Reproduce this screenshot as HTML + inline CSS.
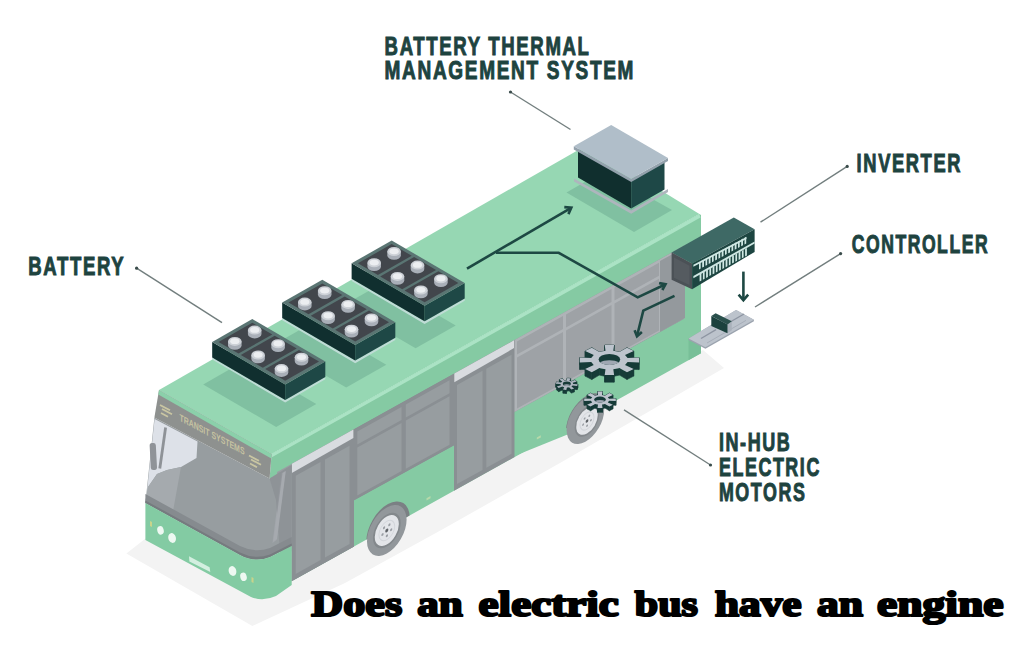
<!DOCTYPE html>
<html><head><meta charset="utf-8"><title>Does an electric bus have an engine</title>
<style>
html,body{margin:0;padding:0;background:#fff;}
body{width:1024px;height:649px;overflow:hidden;font-family:"Liberation Sans",sans-serif;}
svg{display:block;font-family:"Liberation Sans",sans-serif;}
#caption text{font-family:"Liberation Serif",serif;}
</style></head><body>
<svg width="1024" height="649" viewBox="0 0 1024 649">
<rect width="1024" height="649" fill="#ffffff"/>
<g id="ground">
<polygon points="126.4,553.5 252.4,626.0 345.0,583.0 444.0,528.5 560.0,463.0 724.0,368.0 703.0,350.0 300.0,560.0 150.0,535.0" fill="#f3f3f3" />
</g>
<defs><clipPath id="sideclip" clipPathUnits="userSpaceOnUse"><polygon points="271.6,454.0 699.4,214.0 701.0,215.0 701.0,353.3 293.0,580.4 291.0,480.0"/></clipPath></defs>
<g id="bus">
<polygon points="271.6,454.0 699.4,214.0 701.0,215.0 701.0,353.3 293.0,580.4 291.0,480.0 269.6,478.4" fill="#85caa3" />
<polygon points="159.0,390.0 271.6,454.0 699.4,214.0 587.0,145.0" fill="#96d7b3" />
<polygon points="271.6,454.0 699.4,214.0 700.5,217.5 271.4,457.5" fill="#abe3c5" />
<polygon points="291.5,464.0 684.0,245.8 684.0,318.7 354.0,500.2 354.0,546.4 291.5,581.2" fill="#8a8f93" />
</g>
<g id="side-detail">
<polygon points="277.0,472.0 291.5,464.0 291.5,551.2 280.0,556.0" fill="#9a9ea3" />
<polygon points="291.5,464.0 354.0,429.3 354.0,546.4 291.5,581.2" fill="#8a8f93" />
<polygon points="291.8,463.8 353.4,429.6 353.4,437.9 291.8,473.1" fill="#d9dce0" />
<polygon points="295.7,475.7 320.5,461.9 320.5,560.1 295.7,573.9" fill="#979da0" />
<polygon points="325.0,459.4 349.5,445.8 349.5,543.9 325.0,557.6" fill="#979da0" />
<polygon points="354.0,429.3 454.0,373.7 454.0,445.2 354.0,500.2" fill="#8a8f93" />
<polygon points="357.3,431.4 401.5,406.9 401.5,419.9 357.3,444.4" fill="#979da0" />
<polygon points="357.3,447.4 401.5,422.9 401.5,471.1 357.3,495.4" fill="#979da0" />
<polygon points="405.8,404.5 449.5,380.2 449.5,393.2 405.8,417.5" fill="#979da0" />
<polygon points="405.8,420.5 449.5,396.2 449.5,444.7 405.8,468.7" fill="#979da0" />
<polygon points="454.0,373.7 514.5,340.0 514.5,457.1 454.0,490.8" fill="#8a8f93" />
<polygon points="454.3,373.5 514.0,340.3 514.0,348.1 454.3,382.3" fill="#d9dce0" />
<polygon points="457.0,385.0 482.5,370.8 482.5,469.9 457.0,484.1" fill="#979da0" />
<polygon points="486.3,368.7 511.5,354.7 511.5,453.8 486.3,467.8" fill="#979da0" />
<polygon points="514.5,340.0 685.0,245.2 685.0,318.1 514.5,411.9" fill="#afb3b7" />
<polygon points="517.0,341.6 563.0,316.1 563.0,329.1 517.0,354.6" fill="#9ea2a6" />
<polygon points="517.0,357.6 563.0,332.1 563.0,383.2 517.0,408.5" fill="#9ea2a6" />
<polygon points="566.0,314.4 611.5,289.1 611.5,302.1 566.0,327.4" fill="#9ea2a6" />
<polygon points="566.0,330.4 611.5,305.1 611.5,356.6 566.0,381.6" fill="#9ea2a6" />
<polygon points="614.5,287.4 659.0,262.7 659.0,275.7 614.5,300.4" fill="#9ea2a6" />
<polygon points="614.5,303.4 659.0,278.7 659.0,330.4 614.5,354.9" fill="#9ea2a6" />
<polygon points="662.0,261.0 684.0,248.8 684.0,261.8 662.0,274.0" fill="#9ea2a6" />
<polygon points="662.0,277.0 684.0,264.8 684.0,316.7 662.0,328.8" fill="#9ea2a6" />
</g>
<g id="front">
<path d="M154.4,417.5 L269.6,478.4 L291.7,465 L291.7,546 L270,557 Q255,563 240,555 L145.4,503 Z" fill="#979da0"/>
<path d="M154.6,419 L197.5,441.5 L196.5,458 L181,467 L167,470 L157,474 L148,487 L146.5,496 Z" fill="#dde1e8"/>
<path d="M157,474 L167,470 L181,467 L196.5,458 L198,447 L172.8,500 L146,494 L148,487 Z" fill="#a3a7ac" opacity="0.0"/>
<path d="M146.5,496 L148,487 L157,474 L167,470 L181,467 L172.5,514 L145.4,500 Z" fill="#a5aaae"/>
<path d="M281.5,473 L285.5,471 L276.5,540 L272.5,543 Z" fill="#a3a7ac"/>
<path d="M269.6,478.4 L291.7,465 L291.7,546 L280,552 L276,500 Z" fill="#878b90" opacity="0.55"/>
<path d="M282.5,473 L285.8,471 L277,539 L273.5,541 Z" fill="#a6aaaf"/>
<path d="M145.4,494 L240,546 Q255,553.5 270,548 L291.7,537 L291.7,546 L270,557 Q255,563 240,555 L145.4,503 Z" fill="#868b8f"/>
<path d="M145.4,500.5 L240,552.5 Q255,560 270,554.5 L291.7,543.5 L291.7,546 L270,557 Q255,563 240,555 L145.4,503 Z" fill="#767b7f"/>
<polygon points="159.0,390.0 271.6,454.0 269.6,478.4 154.4,417.5" fill="#8e918f" />
<polygon points="159.0,390.0 271.6,454.0 271.3,458.6 158.3,394.4" fill="#8bd0aa" />
<g transform="matrix(1,0.53,0,1,0,0)" fill="#d4cfa6" font-size="10" font-weight="bold" opacity="0.8">
<text x="179.5" y="325.6" textLength="65" lengthAdjust="spacingAndGlyphs" style="font-family:'Liberation Sans',sans-serif">TRANSIT SYSTEMS</text>
</g>
<path d="M160,405 l10,5.3 M162,409 l10,5.3 M161,413 l7,3.7" stroke="#d4cfa6" stroke-width="1.8" fill="none" opacity="0.85"/>
<path d="M249,455.5 l10,5.3 M251,459.5 l10,5.3 M250,463.5 l7,3.7" stroke="#d4cfa6" stroke-width="1.8" fill="none" opacity="0.85"/>
<path d="M165.6,427.5 L159.8,468.5" stroke="#8e9297" stroke-width="2.8" fill="none"/>
<rect x="150.2" y="443" width="6.2" height="27" rx="2.5" fill="#8f9398" transform="rotate(-3 153 456)"/>
<path d="M145.4,503 L240,555 Q255,563 270,557 L291.7,546 L291.7,585 L276,596 Q263,602 251,597 L145.4,540 Z" fill="#83cba3"/>
<ellipse cx="160.5" cy="530.4" rx="3.2" ry="4.3" fill="#eef8f2" transform="rotate(-15 160.5 530.4)"/>
<ellipse cx="172.1" cy="538" rx="3.8" ry="5.0" fill="#eef8f2" transform="rotate(-15 172.1 538)"/>
<ellipse cx="232.5" cy="571" rx="3.8" ry="5.0" fill="#eef8f2" transform="rotate(-15 232.5 571)"/>
<ellipse cx="243.5" cy="576.8" rx="3.2" ry="4.3" fill="#eef8f2" transform="rotate(-15 243.5 576.8)"/>
<polygon points="189.0,556.3 209.6,567.2 210.3,572.0 189.4,561.6" fill="#d3efe0" />
<polygon points="150.0,521.0 152.0,522.0 152.0,527.0 150.0,526.0" fill="#c9d48a" />
<polygon points="251.5,577.0 253.5,578.0 253.5,583.0 251.5,582.0" fill="#c9d48a" />
</g>
<polygon points="515.0,455.8 570.0,425.2 570.0,433.5" fill="#85caa3" />
<polygon points="426.5,498.2 430.5,496.0 430.5,498.2 426.5,500.4" fill="#b7d9aa" />
<polygon points="536.8,437.4 540.8,435.2 540.8,437.4 536.8,439.6" fill="#b7d9aa" />
<g id="wheels">
<g clip-path="url(#sideclip)"><circle r="25.2" fill="#7b8084" transform="matrix(0.861,-0.473,0,1,388.0,529.3)"/></g>
<circle r="23" fill="#92979b" transform="matrix(0.861,-0.473,0,1,386.8,530.5)"/>
<circle r="16.1" fill="#83888c" transform="matrix(0.861,-0.473,0,1,386.8,530.5)"/>
<circle r="14.0" fill="#e3e5e9" transform="matrix(0.861,-0.473,0,1,386.8,530.5)"/>
<circle r="9.2" fill="none" stroke="#d2d5da" stroke-width="1" transform="matrix(0.861,-0.473,0,1,386.8,530.5)"/>
<circle cx="5.1" cy="1.6" r="1.3" fill="#9a9ea4" transform="matrix(0.861,-0.473,0,1,386.8,530.5)"/>
<circle cx="0.1" cy="5.3" r="1.3" fill="#9a9ea4" transform="matrix(0.861,-0.473,0,1,386.8,530.5)"/>
<circle cx="-5.0" cy="1.7" r="1.3" fill="#9a9ea4" transform="matrix(0.861,-0.473,0,1,386.8,530.5)"/>
<circle cx="-3.2" cy="-4.2" r="1.3" fill="#9a9ea4" transform="matrix(0.861,-0.473,0,1,386.8,530.5)"/>
<circle cx="3.0" cy="-4.3" r="1.3" fill="#9a9ea4" transform="matrix(0.861,-0.473,0,1,386.8,530.5)"/>
<circle r="1.8" fill="#5f6368" transform="matrix(0.861,-0.473,0,1,386.8,530.5)"/>
<g clip-path="url(#sideclip)"><circle r="24.0" fill="#7b8084" transform="matrix(0.861,-0.473,0,1,586.6,419.8)"/></g>
<circle r="21.8" fill="#92979b" transform="matrix(0.861,-0.473,0,1,585.4,420.0)"/>
<circle r="14.3" fill="#83888c" transform="matrix(0.861,-0.473,0,1,587,421)"/>
<circle r="12.5" fill="#e3e5e9" transform="matrix(0.861,-0.473,0,1,587,421)"/>
<circle r="8.2" fill="none" stroke="#d2d5da" stroke-width="1" transform="matrix(0.861,-0.473,0,1,587,421)"/>
<circle cx="4.5" cy="1.4" r="1.1" fill="#9a9ea4" transform="matrix(0.861,-0.473,0,1,587,421)"/>
<circle cx="0.1" cy="4.7" r="1.1" fill="#9a9ea4" transform="matrix(0.861,-0.473,0,1,587,421)"/>
<circle cx="-4.5" cy="1.5" r="1.1" fill="#9a9ea4" transform="matrix(0.861,-0.473,0,1,587,421)"/>
<circle cx="-2.8" cy="-3.8" r="1.1" fill="#9a9ea4" transform="matrix(0.861,-0.473,0,1,587,421)"/>
<circle cx="2.7" cy="-3.9" r="1.1" fill="#9a9ea4" transform="matrix(0.861,-0.473,0,1,587,421)"/>
<circle r="1.6" fill="#5f6368" transform="matrix(0.861,-0.473,0,1,587,421)"/>
</g>
<g id="batteries">
<polygon points="203.2,384.4 243.3,361.6 316.3,404.1 276.2,426.9" fill="#80c0a1" />
<polygon points="273.2,345.1 313.3,322.3 386.3,364.8 346.2,387.6" fill="#80c0a1" />
<polygon points="342.6,305.8 382.7,283.0 455.7,325.5 415.6,348.3" fill="#80c0a1" />
<polygon points="212.2,357.4 285.2,399.9 325.3,377.1 325.3,379.3 285.2,402.5 212.2,359.6" fill="#bfdcd6" />
<polygon points="212.2,341.9 285.2,384.4 285.2,399.9 212.2,357.4" fill="#102f2f" />
<polygon points="285.2,384.4 325.3,361.6 325.3,377.1 285.2,399.9" fill="#1e4846" />
<polygon points="212.2,341.9 252.3,319.1 325.3,361.6 285.2,384.4" fill="#5a7573" />
<polygon points="218.5,341.9 252.3,322.7 272.3,334.4 238.5,353.6" fill="#42464c" />
<polygon points="240.8,355.0 274.7,335.7 296.7,348.5 262.8,367.8" fill="#42464c" />
<polygon points="265.2,369.1 299.0,349.9 319.0,361.6 285.2,380.8" fill="#42464c" />
<path d="M228.0,341.4 v3.8 a6.8,4.5 0 0 0 13.6,0 v-3.8 z" fill="#a9afb8"/>
<ellipse cx="234.8" cy="341.4" rx="6.8" ry="4.5" fill="#cdd1d7" />
<ellipse cx="234.8" cy="341.2" rx="4.6" ry="2.9" fill="#eceef1" />
<path d="M247.9,330.1 v3.8 a6.8,4.5 0 0 0 13.6,0 v-3.8 z" fill="#a9afb8"/>
<ellipse cx="254.7" cy="330.1" rx="6.8" ry="4.5" fill="#cdd1d7" />
<ellipse cx="254.7" cy="329.9" rx="4.6" ry="2.9" fill="#eceef1" />
<path d="M251.3,355.0 v3.8 a6.8,4.5 0 0 0 13.6,0 v-3.8 z" fill="#a9afb8"/>
<ellipse cx="258.1" cy="355.0" rx="6.8" ry="4.5" fill="#cdd1d7" />
<ellipse cx="258.1" cy="354.8" rx="4.6" ry="2.9" fill="#eceef1" />
<path d="M271.3,343.7 v3.8 a6.8,4.5 0 0 0 13.6,0 v-3.8 z" fill="#a9afb8"/>
<ellipse cx="278.1" cy="343.7" rx="6.8" ry="4.5" fill="#cdd1d7" />
<ellipse cx="278.1" cy="343.5" rx="4.6" ry="2.9" fill="#eceef1" />
<path d="M274.7,368.6 v3.8 a6.8,4.5 0 0 0 13.6,0 v-3.8 z" fill="#a9afb8"/>
<ellipse cx="281.5" cy="368.6" rx="6.8" ry="4.5" fill="#cdd1d7" />
<ellipse cx="281.5" cy="368.4" rx="4.6" ry="2.9" fill="#eceef1" />
<path d="M294.7,357.3 v3.8 a6.8,4.5 0 0 0 13.6,0 v-3.8 z" fill="#a9afb8"/>
<ellipse cx="301.5" cy="357.3" rx="6.8" ry="4.5" fill="#cdd1d7" />
<ellipse cx="301.5" cy="357.1" rx="4.6" ry="2.9" fill="#eceef1" />
<polygon points="282.2,318.1 355.2,360.6 395.3,337.8 395.3,340.0 355.2,363.2 282.2,320.3" fill="#bfdcd6" />
<polygon points="282.2,302.6 355.2,345.1 355.2,360.6 282.2,318.1" fill="#102f2f" />
<polygon points="355.2,345.1 395.3,322.3 395.3,337.8 355.2,360.6" fill="#1e4846" />
<polygon points="282.2,302.6 322.3,279.8 395.3,322.3 355.2,345.1" fill="#5a7573" />
<polygon points="288.5,302.6 322.3,283.4 342.3,295.1 308.5,314.3" fill="#42464c" />
<polygon points="310.8,315.7 344.7,296.4 366.7,309.2 332.8,328.5" fill="#42464c" />
<polygon points="335.2,329.8 369.0,310.6 389.0,322.3 355.2,341.5" fill="#42464c" />
<path d="M298.0,302.1 v3.8 a6.8,4.5 0 0 0 13.6,0 v-3.8 z" fill="#a9afb8"/>
<ellipse cx="304.8" cy="302.1" rx="6.8" ry="4.5" fill="#cdd1d7" />
<ellipse cx="304.8" cy="301.9" rx="4.6" ry="2.9" fill="#eceef1" />
<path d="M317.9,290.8 v3.8 a6.8,4.5 0 0 0 13.6,0 v-3.8 z" fill="#a9afb8"/>
<ellipse cx="324.7" cy="290.8" rx="6.8" ry="4.5" fill="#cdd1d7" />
<ellipse cx="324.7" cy="290.6" rx="4.6" ry="2.9" fill="#eceef1" />
<path d="M321.3,315.7 v3.8 a6.8,4.5 0 0 0 13.6,0 v-3.8 z" fill="#a9afb8"/>
<ellipse cx="328.1" cy="315.7" rx="6.8" ry="4.5" fill="#cdd1d7" />
<ellipse cx="328.1" cy="315.5" rx="4.6" ry="2.9" fill="#eceef1" />
<path d="M341.3,304.4 v3.8 a6.8,4.5 0 0 0 13.6,0 v-3.8 z" fill="#a9afb8"/>
<ellipse cx="348.1" cy="304.4" rx="6.8" ry="4.5" fill="#cdd1d7" />
<ellipse cx="348.1" cy="304.2" rx="4.6" ry="2.9" fill="#eceef1" />
<path d="M344.7,329.3 v3.8 a6.8,4.5 0 0 0 13.6,0 v-3.8 z" fill="#a9afb8"/>
<ellipse cx="351.5" cy="329.3" rx="6.8" ry="4.5" fill="#cdd1d7" />
<ellipse cx="351.5" cy="329.1" rx="4.6" ry="2.9" fill="#eceef1" />
<path d="M364.7,318.0 v3.8 a6.8,4.5 0 0 0 13.6,0 v-3.8 z" fill="#a9afb8"/>
<ellipse cx="371.5" cy="318.0" rx="6.8" ry="4.5" fill="#cdd1d7" />
<ellipse cx="371.5" cy="317.8" rx="4.6" ry="2.9" fill="#eceef1" />
<polygon points="351.6,278.8 424.6,321.3 464.7,298.5 464.7,300.7 424.6,323.9 351.6,281.0" fill="#bfdcd6" />
<polygon points="351.6,263.3 424.6,305.8 424.6,321.3 351.6,278.8" fill="#102f2f" />
<polygon points="424.6,305.8 464.7,283.0 464.7,298.5 424.6,321.3" fill="#1e4846" />
<polygon points="351.6,263.3 391.7,240.5 464.7,283.0 424.6,305.8" fill="#5a7573" />
<polygon points="357.9,263.3 391.7,244.1 411.7,255.8 377.9,275.0" fill="#42464c" />
<polygon points="380.2,276.4 414.1,257.1 436.1,269.9 402.2,289.2" fill="#42464c" />
<polygon points="404.6,290.5 438.4,271.3 458.4,283.0 424.6,302.2" fill="#42464c" />
<path d="M367.4,262.8 v3.8 a6.8,4.5 0 0 0 13.6,0 v-3.8 z" fill="#a9afb8"/>
<ellipse cx="374.2" cy="262.8" rx="6.8" ry="4.5" fill="#cdd1d7" />
<ellipse cx="374.2" cy="262.6" rx="4.6" ry="2.9" fill="#eceef1" />
<path d="M387.3,251.5 v3.8 a6.8,4.5 0 0 0 13.6,0 v-3.8 z" fill="#a9afb8"/>
<ellipse cx="394.1" cy="251.5" rx="6.8" ry="4.5" fill="#cdd1d7" />
<ellipse cx="394.1" cy="251.3" rx="4.6" ry="2.9" fill="#eceef1" />
<path d="M390.7,276.4 v3.8 a6.8,4.5 0 0 0 13.6,0 v-3.8 z" fill="#a9afb8"/>
<ellipse cx="397.5" cy="276.4" rx="6.8" ry="4.5" fill="#cdd1d7" />
<ellipse cx="397.5" cy="276.2" rx="4.6" ry="2.9" fill="#eceef1" />
<path d="M410.7,265.1 v3.8 a6.8,4.5 0 0 0 13.6,0 v-3.8 z" fill="#a9afb8"/>
<ellipse cx="417.5" cy="265.1" rx="6.8" ry="4.5" fill="#cdd1d7" />
<ellipse cx="417.5" cy="264.9" rx="4.6" ry="2.9" fill="#eceef1" />
<path d="M414.1,290.0 v3.8 a6.8,4.5 0 0 0 13.6,0 v-3.8 z" fill="#a9afb8"/>
<ellipse cx="420.9" cy="290.0" rx="6.8" ry="4.5" fill="#cdd1d7" />
<ellipse cx="420.9" cy="289.8" rx="4.6" ry="2.9" fill="#eceef1" />
<path d="M434.1,278.7 v3.8 a6.8,4.5 0 0 0 13.6,0 v-3.8 z" fill="#a9afb8"/>
<ellipse cx="440.9" cy="278.7" rx="6.8" ry="4.5" fill="#cdd1d7" />
<ellipse cx="440.9" cy="278.5" rx="4.6" ry="2.9" fill="#eceef1" />
</g>
<g id="thermal">
<polygon points="566.5,192.5 603.0,171.5 672.0,210.0 634.0,232.0" fill="#80c0a1" />
<polygon points="574.0,178.5 631.2,210.5 668.0,189.0 668.0,192.0 631.2,213.8 574.0,181.6" fill="#aeb5bd" />
<polygon points="578.0,149.0 631.2,180.0 631.2,208.5 578.0,177.5" fill="#102f2e" />
<polygon points="631.2,180.0 664.5,161.0 664.5,189.5 631.2,208.5" fill="#1e4847" />
<polygon points="573.8,146.3 631.2,178.8 668.0,158.0 668.0,161.0 631.2,182.0 573.8,149.4" fill="#93a1ac" />
<polygon points="573.8,146.3 611.2,125.0 668.0,158.0 631.2,178.8" fill="#b0bec9" />
</g>
<g id="inverter">
<polygon points="660.0,261.1 685.0,247.2 685.0,318.1 660.0,331.9" fill="#94999d" />
<polygon points="671.6,252.6 733.8,217.4 754.6,229.2 692.1,263.6" fill="#3e6965" />
<polygon points="671.6,252.6 692.1,263.6 692.1,289.2 671.6,279.7" fill="#4b5156" />
<polygon points="674.0,257.5 689.5,265.8 689.5,285.0 674.0,277.8" fill="#555b60" />
<polygon points="692.1,263.6 754.6,229.2 754.6,251.9 692.1,289.2" fill="#1d4541" />
<polygon points="693.4,264.7 746.5,237.0 746.5,239.0 693.4,266.7" fill="#cfe7e3" />
<polygon points="699.0,262.8 700.7,261.9 700.7,268.5 699.0,269.4" fill="#cfe7e3" />
<polygon points="702.2,261.0 704.0,260.1 704.0,266.7 702.2,267.6" fill="#cfe7e3" />
<polygon points="705.5,259.2 707.2,258.3 707.2,264.9 705.5,265.8" fill="#cfe7e3" />
<polygon points="708.7,257.4 710.5,256.5 710.5,263.1 708.7,264.0" fill="#cfe7e3" />
<polygon points="712.0,255.7 713.7,254.7 713.7,261.3 712.0,262.3" fill="#cfe7e3" />
<polygon points="715.2,253.9 717.0,252.9 717.0,259.5 715.2,260.5" fill="#cfe7e3" />
<polygon points="718.5,252.1 720.2,251.1 720.2,257.7 718.5,258.7" fill="#cfe7e3" />
<polygon points="721.7,250.3 723.5,249.3 723.5,255.9 721.7,256.9" fill="#cfe7e3" />
<polygon points="725.0,248.5 726.7,247.5 726.7,254.1 725.0,255.1" fill="#cfe7e3" />
<polygon points="728.2,246.7 730.0,245.8 730.0,252.4 728.2,253.3" fill="#cfe7e3" />
<polygon points="731.5,244.9 733.2,244.0 733.2,250.6 731.5,251.5" fill="#cfe7e3" />
<polygon points="734.7,243.1 736.5,242.2 736.5,248.8 734.7,249.7" fill="#cfe7e3" />
<polygon points="738.0,241.4 739.7,240.4 739.7,247.0 738.0,248.0" fill="#cfe7e3" />
<polygon points="741.2,239.6 743.0,238.6 743.0,245.2 741.2,246.2" fill="#cfe7e3" />
<polygon points="744.5,237.8 746.2,236.8 746.2,243.4 744.5,244.4" fill="#cfe7e3" />
<polygon points="693.4,276.1 754.6,241.4 754.6,243.6 693.4,278.3" fill="#cfe7e3" />
<polygon points="699.6,274.1 701.4,273.1 701.4,280.5 699.6,281.5" fill="#cfe7e3" />
<polygon points="702.9,272.3 704.6,271.3 704.6,278.7 702.9,279.7" fill="#cfe7e3" />
<polygon points="706.1,270.5 707.9,269.5 707.9,276.9 706.1,277.9" fill="#cfe7e3" />
<polygon points="709.4,268.7 711.1,267.7 711.1,275.1 709.4,276.1" fill="#cfe7e3" />
<polygon points="712.6,266.9 714.4,266.0 714.4,273.4 712.6,274.3" fill="#cfe7e3" />
<polygon points="715.9,265.1 717.6,264.2 717.6,271.6 715.9,272.5" fill="#cfe7e3" />
<polygon points="719.1,263.3 720.9,262.4 720.9,269.8 719.1,270.7" fill="#cfe7e3" />
<polygon points="722.4,261.6 724.1,260.6 724.1,268.0 722.4,269.0" fill="#cfe7e3" />
<polygon points="725.6,259.8 727.4,258.8 727.4,266.2 725.6,267.2" fill="#cfe7e3" />
<polygon points="728.9,258.0 730.6,257.0 730.6,264.4 728.9,265.4" fill="#cfe7e3" />
<polygon points="732.1,256.2 733.9,255.2 733.9,262.6 732.1,263.6" fill="#cfe7e3" />
<polygon points="735.4,254.4 737.1,253.4 737.1,260.8 735.4,261.8" fill="#cfe7e3" />
<polygon points="738.6,252.6 740.4,251.6 740.4,259.0 738.6,260.0" fill="#cfe7e3" />
<polygon points="741.9,250.8 743.6,249.9 743.6,257.3 741.9,258.2" fill="#cfe7e3" />
<polygon points="745.1,249.0 746.9,248.1 746.9,255.5 745.1,256.4" fill="#cfe7e3" />
<line x1="743.4" y1="271.6" x2="743.4" y2="299.0" stroke="#1d4843" stroke-width="2.6" />
<polyline points="738.6,294.6 743.4,300.2 748.2,294.6" fill="none" stroke="#1d4843" stroke-width="2.6" stroke-linejoin="miter"/>
<polygon points="688.5,338.5 701.0,331.5 701.0,353.3 688.5,360.3" fill="#78bf98" />
<polygon points="688.6,338.5 736.1,310.0 753.9,319.7 753.9,321.2 705.4,348.8 688.6,340.0" fill="#9ba3ae" />
<polygon points="688.6,338.5 736.1,310.0 753.9,319.7 705.4,347.2" fill="#bcc3cc" />
<line x1="701.0" y1="338.5" x2="716.0" y2="329.7" stroke="#8d95a2" stroke-width="1.4" />
<line x1="731.0" y1="321.5" x2="744.0" y2="314.0" stroke="#8d95a2" stroke-width="1.4" />
<line x1="707.0" y1="343.0" x2="746.0" y2="320.4" stroke="#a7aeb9" stroke-width="1" />
<polygon points="727.5,324.5 731.8,321.3 731.8,330.2 727.5,333.3" fill="#aab1bb" />
<polygon points="711.3,315.9 715.6,313.3 731.8,321.3 727.5,324.5" fill="#2a504c" />
<polygon points="711.3,315.9 727.5,324.5 727.5,333.3 711.3,326.1" fill="#1b413d" />
</g>
<g id="gears">
<polygon points="613.3,369.2 614.1,375.0 614.1,382.2 613.3,376.4" fill="#163b38" stroke="#163b38" stroke-width="0.6"/>
<polygon points="614.1,375.0 604.7,375.0 604.7,382.2 614.1,382.2" fill="#163b38" stroke="#163b38" stroke-width="0.6"/>
<polygon points="604.7,375.0 605.5,369.2 605.5,376.4 604.7,382.2" fill="#163b38" stroke="#163b38" stroke-width="0.6"/>
<polygon points="605.5,369.2 599.3,367.9 599.3,375.1 605.5,376.4" fill="#163b38" stroke="#163b38" stroke-width="0.6"/>
<polygon points="599.3,367.9 591.8,372.3 591.8,379.5 599.3,375.1" fill="#163b38" stroke="#163b38" stroke-width="0.6"/>
<polygon points="591.8,372.3 585.1,368.9 585.1,376.1 591.8,379.5" fill="#163b38" stroke="#163b38" stroke-width="0.6"/>
<polygon points="585.1,368.9 593.8,365.1 593.8,372.3 585.1,376.1" fill="#163b38" stroke="#163b38" stroke-width="0.6"/>
<polygon points="593.8,365.1 591.2,362.0 591.2,369.2 593.8,372.3" fill="#163b38" stroke="#163b38" stroke-width="0.6"/>
<polygon points="591.2,362.0 579.8,362.4 579.8,369.6 591.2,369.2" fill="#163b38" stroke="#163b38" stroke-width="0.6"/>
<polygon points="579.8,362.4 579.8,357.6 579.8,364.8 579.8,369.6" fill="#163b38" stroke="#163b38" stroke-width="0.6"/>
<polygon points="579.8,357.6 591.2,358.0 591.2,365.2 579.8,364.8" fill="#163b38" stroke="#163b38" stroke-width="0.6"/>
<polygon points="591.2,358.0 593.8,354.9 593.8,362.1 591.2,365.2" fill="#163b38" stroke="#163b38" stroke-width="0.6"/>
<polygon points="593.8,354.9 585.1,351.1 585.1,358.3 593.8,362.1" fill="#163b38" stroke="#163b38" stroke-width="0.6"/>
<polygon points="585.1,351.1 591.8,347.7 591.8,354.9 585.1,358.3" fill="#163b38" stroke="#163b38" stroke-width="0.6"/>
<polygon points="591.8,347.7 599.3,352.1 599.3,359.3 591.8,354.9" fill="#163b38" stroke="#163b38" stroke-width="0.6"/>
<polygon points="599.3,352.1 605.5,350.8 605.5,358.0 599.3,359.3" fill="#163b38" stroke="#163b38" stroke-width="0.6"/>
<polygon points="605.5,350.8 604.7,345.0 604.7,352.2 605.5,358.0" fill="#163b38" stroke="#163b38" stroke-width="0.6"/>
<polygon points="604.7,345.0 614.1,345.0 614.1,352.2 604.7,352.2" fill="#163b38" stroke="#163b38" stroke-width="0.6"/>
<polygon points="614.1,345.0 613.3,350.8 613.3,358.0 614.1,352.2" fill="#163b38" stroke="#163b38" stroke-width="0.6"/>
<polygon points="613.3,350.8 619.5,352.1 619.5,359.3 613.3,358.0" fill="#163b38" stroke="#163b38" stroke-width="0.6"/>
<polygon points="619.5,352.1 627.0,347.7 627.0,354.9 619.5,359.3" fill="#163b38" stroke="#163b38" stroke-width="0.6"/>
<polygon points="627.0,347.7 633.7,351.1 633.7,358.3 627.0,354.9" fill="#163b38" stroke="#163b38" stroke-width="0.6"/>
<polygon points="633.7,351.1 625.0,354.9 625.0,362.1 633.7,358.3" fill="#163b38" stroke="#163b38" stroke-width="0.6"/>
<polygon points="625.0,354.9 627.6,358.0 627.6,365.2 625.0,362.1" fill="#163b38" stroke="#163b38" stroke-width="0.6"/>
<polygon points="627.6,358.0 639.0,357.6 639.0,364.8 627.6,365.2" fill="#163b38" stroke="#163b38" stroke-width="0.6"/>
<polygon points="639.0,357.6 639.0,362.4 639.0,369.6 639.0,364.8" fill="#163b38" stroke="#163b38" stroke-width="0.6"/>
<polygon points="639.0,362.4 627.6,362.0 627.6,369.2 639.0,369.6" fill="#163b38" stroke="#163b38" stroke-width="0.6"/>
<polygon points="627.6,362.0 625.0,365.1 625.0,372.3 627.6,369.2" fill="#163b38" stroke="#163b38" stroke-width="0.6"/>
<polygon points="625.0,365.1 633.7,368.9 633.7,376.1 625.0,372.3" fill="#163b38" stroke="#163b38" stroke-width="0.6"/>
<polygon points="633.7,368.9 627.0,372.3 627.0,379.5 633.7,376.1" fill="#163b38" stroke="#163b38" stroke-width="0.6"/>
<polygon points="627.0,372.3 619.5,367.9 619.5,375.1 627.0,379.5" fill="#163b38" stroke="#163b38" stroke-width="0.6"/>
<polygon points="619.5,367.9 613.3,369.2 613.3,376.4 619.5,375.1" fill="#163b38" stroke="#163b38" stroke-width="0.6"/>
<polygon points="613.3,369.2 614.1,375.0 604.7,375.0 605.5,369.2 599.3,367.9 591.8,372.3 585.1,368.9 593.8,365.1 591.2,362.0 579.8,362.4 579.8,357.6 591.2,358.0 593.8,354.9 585.1,351.1 591.8,347.7 599.3,352.1 605.5,350.8 604.7,345.0 614.1,345.0 613.3,350.8 619.5,352.1 627.0,347.7 633.7,351.1 625.0,354.9 627.6,358.0 639.0,357.6 639.0,362.4 627.6,362.0 625.0,365.1 633.7,368.9 627.0,372.3 619.5,367.9" fill="#bdc4cd" />
<ellipse cx="609.4" cy="359.4" rx="10.8" ry="5.5" fill="#163b38" />
<path d="M600.1,362.3 A10.8,4.1 0 0 1 618.7,362.3 A10.8,5.5 0 0 1 600.1,362.3 Z" fill="#9fa7b2"/>
<polygon points="573.2,384.0 577.8,384.3 577.8,387.9 573.2,387.6" fill="#163b38" stroke="#163b38" stroke-width="0.6"/>
<polygon points="577.8,384.3 577.1,386.1 577.1,389.7 577.8,387.9" fill="#163b38" stroke="#163b38" stroke-width="0.6"/>
<polygon points="577.1,386.1 572.6,385.4 572.6,389.0 577.1,389.7" fill="#163b38" stroke="#163b38" stroke-width="0.6"/>
<polygon points="572.6,385.4 571.4,386.4 571.4,390.0 572.6,389.0" fill="#163b38" stroke="#163b38" stroke-width="0.6"/>
<polygon points="571.4,386.4 574.2,388.4 574.2,392.0 571.4,390.0" fill="#163b38" stroke="#163b38" stroke-width="0.6"/>
<polygon points="574.2,388.4 571.4,389.5 571.4,393.1 574.2,392.0" fill="#163b38" stroke="#163b38" stroke-width="0.6"/>
<polygon points="571.4,389.5 569.1,387.2 569.1,390.8 571.4,393.1" fill="#163b38" stroke="#163b38" stroke-width="0.6"/>
<polygon points="569.1,387.2 566.9,387.5 566.9,391.1 569.1,390.8" fill="#163b38" stroke="#163b38" stroke-width="0.6"/>
<polygon points="566.9,387.5 566.3,390.0 566.3,393.6 566.9,391.1" fill="#163b38" stroke="#163b38" stroke-width="0.6"/>
<polygon points="566.3,390.0 563.0,389.6 563.0,393.2 566.3,393.6" fill="#163b38" stroke="#163b38" stroke-width="0.6"/>
<polygon points="563.0,389.6 564.2,387.2 564.2,390.8 563.0,393.2" fill="#163b38" stroke="#163b38" stroke-width="0.6"/>
<polygon points="564.2,387.2 562.3,386.5 562.3,390.1 564.2,390.8" fill="#163b38" stroke="#163b38" stroke-width="0.6"/>
<polygon points="562.3,386.5 558.7,388.1 558.7,391.7 562.3,390.1" fill="#163b38" stroke="#163b38" stroke-width="0.6"/>
<polygon points="558.7,388.1 556.8,386.5 556.8,390.1 558.7,391.7" fill="#163b38" stroke="#163b38" stroke-width="0.6"/>
<polygon points="556.8,386.5 560.9,385.3 560.9,388.9 556.8,390.1" fill="#163b38" stroke="#163b38" stroke-width="0.6"/>
<polygon points="560.9,385.3 560.4,384.0 560.4,387.6 560.9,388.9" fill="#163b38" stroke="#163b38" stroke-width="0.6"/>
<polygon points="560.4,384.0 555.8,383.7 555.8,387.3 560.4,387.6" fill="#163b38" stroke="#163b38" stroke-width="0.6"/>
<polygon points="555.8,383.7 556.5,381.9 556.5,385.5 555.8,387.3" fill="#163b38" stroke="#163b38" stroke-width="0.6"/>
<polygon points="556.5,381.9 561.0,382.6 561.0,386.2 556.5,385.5" fill="#163b38" stroke="#163b38" stroke-width="0.6"/>
<polygon points="561.0,382.6 562.2,381.6 562.2,385.2 561.0,386.2" fill="#163b38" stroke="#163b38" stroke-width="0.6"/>
<polygon points="562.2,381.6 559.4,379.6 559.4,383.2 562.2,385.2" fill="#163b38" stroke="#163b38" stroke-width="0.6"/>
<polygon points="559.4,379.6 562.2,378.5 562.2,382.1 559.4,383.2" fill="#163b38" stroke="#163b38" stroke-width="0.6"/>
<polygon points="562.2,378.5 564.5,380.8 564.5,384.4 562.2,382.1" fill="#163b38" stroke="#163b38" stroke-width="0.6"/>
<polygon points="564.5,380.8 566.7,380.5 566.7,384.1 564.5,384.4" fill="#163b38" stroke="#163b38" stroke-width="0.6"/>
<polygon points="566.7,380.5 567.3,378.0 567.3,381.6 566.7,384.1" fill="#163b38" stroke="#163b38" stroke-width="0.6"/>
<polygon points="567.3,378.0 570.6,378.4 570.6,382.0 567.3,381.6" fill="#163b38" stroke="#163b38" stroke-width="0.6"/>
<polygon points="570.6,378.4 569.4,380.8 569.4,384.4 570.6,382.0" fill="#163b38" stroke="#163b38" stroke-width="0.6"/>
<polygon points="569.4,380.8 571.3,381.5 571.3,385.1 569.4,384.4" fill="#163b38" stroke="#163b38" stroke-width="0.6"/>
<polygon points="571.3,381.5 574.9,379.9 574.9,383.5 571.3,385.1" fill="#163b38" stroke="#163b38" stroke-width="0.6"/>
<polygon points="574.9,379.9 576.8,381.5 576.8,385.1 574.9,383.5" fill="#163b38" stroke="#163b38" stroke-width="0.6"/>
<polygon points="576.8,381.5 572.7,382.7 572.7,386.3 576.8,385.1" fill="#163b38" stroke="#163b38" stroke-width="0.6"/>
<polygon points="572.7,382.7 573.2,384.0 573.2,387.6 572.7,386.3" fill="#163b38" stroke="#163b38" stroke-width="0.6"/>
<polygon points="573.2,384.0 577.8,384.3 577.1,386.1 572.6,385.4 571.4,386.4 574.2,388.4 571.4,389.5 569.1,387.2 566.9,387.5 566.3,390.0 563.0,389.6 564.2,387.2 562.3,386.5 558.7,388.1 556.8,386.5 560.9,385.3 560.4,384.0 555.8,383.7 556.5,381.9 561.0,382.6 562.2,381.6 559.4,379.6 562.2,378.5 564.5,380.8 566.7,380.5 567.3,378.0 570.6,378.4 569.4,380.8 571.3,381.5 574.9,379.9 576.8,381.5 572.7,382.7" fill="#aeb6c0" />
<ellipse cx="566.8" cy="383.8" rx="4.0" ry="2.2" fill="#163b38" />
<path d="M563.4,384.9 A4.0,1.6 0 0 1 570.2,384.9 A4.0,2.2 0 0 1 563.4,384.9 Z" fill="#9fa7b2"/>
<polygon points="602.0,404.6 602.5,408.1 602.5,412.3 602.0,408.8" fill="#163b38" stroke="#163b38" stroke-width="0.6"/>
<polygon points="602.5,408.1 597.5,408.1 597.5,412.3 602.5,412.3" fill="#163b38" stroke="#163b38" stroke-width="0.6"/>
<polygon points="597.5,408.1 598.0,404.6 598.0,408.8 597.5,412.3" fill="#163b38" stroke="#163b38" stroke-width="0.6"/>
<polygon points="598.0,404.6 595.0,403.9 595.0,408.1 598.0,408.8" fill="#163b38" stroke="#163b38" stroke-width="0.6"/>
<polygon points="595.0,403.9 590.6,406.6 590.6,410.8 595.0,408.1" fill="#163b38" stroke="#163b38" stroke-width="0.6"/>
<polygon points="590.6,406.6 587.1,404.7 587.1,408.9 590.6,410.8" fill="#163b38" stroke="#163b38" stroke-width="0.6"/>
<polygon points="587.1,404.7 592.2,402.4 592.2,406.6 587.1,408.9" fill="#163b38" stroke="#163b38" stroke-width="0.6"/>
<polygon points="592.2,402.4 590.9,400.8 590.9,405.0 592.2,406.6" fill="#163b38" stroke="#163b38" stroke-width="0.6"/>
<polygon points="590.9,400.8 584.2,401.1 584.2,405.3 590.9,405.0" fill="#163b38" stroke="#163b38" stroke-width="0.6"/>
<polygon points="584.2,401.1 584.2,398.5 584.2,402.7 584.2,405.3" fill="#163b38" stroke="#163b38" stroke-width="0.6"/>
<polygon points="584.2,398.5 590.9,398.8 590.9,403.0 584.2,402.7" fill="#163b38" stroke="#163b38" stroke-width="0.6"/>
<polygon points="590.9,398.8 592.2,397.2 592.2,401.4 590.9,403.0" fill="#163b38" stroke="#163b38" stroke-width="0.6"/>
<polygon points="592.2,397.2 587.1,394.9 587.1,399.1 592.2,401.4" fill="#163b38" stroke="#163b38" stroke-width="0.6"/>
<polygon points="587.1,394.9 590.6,393.0 590.6,397.2 587.1,399.1" fill="#163b38" stroke="#163b38" stroke-width="0.6"/>
<polygon points="590.6,393.0 595.0,395.7 595.0,399.9 590.6,397.2" fill="#163b38" stroke="#163b38" stroke-width="0.6"/>
<polygon points="595.0,395.7 598.0,395.0 598.0,399.2 595.0,399.9" fill="#163b38" stroke="#163b38" stroke-width="0.6"/>
<polygon points="598.0,395.0 597.5,391.5 597.5,395.7 598.0,399.2" fill="#163b38" stroke="#163b38" stroke-width="0.6"/>
<polygon points="597.5,391.5 602.5,391.5 602.5,395.7 597.5,395.7" fill="#163b38" stroke="#163b38" stroke-width="0.6"/>
<polygon points="602.5,391.5 602.0,395.0 602.0,399.2 602.5,395.7" fill="#163b38" stroke="#163b38" stroke-width="0.6"/>
<polygon points="602.0,395.0 605.0,395.7 605.0,399.9 602.0,399.2" fill="#163b38" stroke="#163b38" stroke-width="0.6"/>
<polygon points="605.0,395.7 609.4,393.0 609.4,397.2 605.0,399.9" fill="#163b38" stroke="#163b38" stroke-width="0.6"/>
<polygon points="609.4,393.0 612.9,394.9 612.9,399.1 609.4,397.2" fill="#163b38" stroke="#163b38" stroke-width="0.6"/>
<polygon points="612.9,394.9 607.8,397.2 607.8,401.4 612.9,399.1" fill="#163b38" stroke="#163b38" stroke-width="0.6"/>
<polygon points="607.8,397.2 609.1,398.8 609.1,403.0 607.8,401.4" fill="#163b38" stroke="#163b38" stroke-width="0.6"/>
<polygon points="609.1,398.8 615.8,398.5 615.8,402.7 609.1,403.0" fill="#163b38" stroke="#163b38" stroke-width="0.6"/>
<polygon points="615.8,398.5 615.8,401.1 615.8,405.3 615.8,402.7" fill="#163b38" stroke="#163b38" stroke-width="0.6"/>
<polygon points="615.8,401.1 609.1,400.8 609.1,405.0 615.8,405.3" fill="#163b38" stroke="#163b38" stroke-width="0.6"/>
<polygon points="609.1,400.8 607.8,402.4 607.8,406.6 609.1,405.0" fill="#163b38" stroke="#163b38" stroke-width="0.6"/>
<polygon points="607.8,402.4 612.9,404.7 612.9,408.9 607.8,406.6" fill="#163b38" stroke="#163b38" stroke-width="0.6"/>
<polygon points="612.9,404.7 609.4,406.6 609.4,410.8 612.9,408.9" fill="#163b38" stroke="#163b38" stroke-width="0.6"/>
<polygon points="609.4,406.6 605.0,403.9 605.0,408.1 609.4,410.8" fill="#163b38" stroke="#163b38" stroke-width="0.6"/>
<polygon points="605.0,403.9 602.0,404.6 602.0,408.8 605.0,408.1" fill="#163b38" stroke="#163b38" stroke-width="0.6"/>
<polygon points="602.0,404.6 602.5,408.1 597.5,408.1 598.0,404.6 595.0,403.9 590.6,406.6 587.1,404.7 592.2,402.4 590.9,400.8 584.2,401.1 584.2,398.5 590.9,398.8 592.2,397.2 587.1,394.9 590.6,393.0 595.0,395.7 598.0,395.0 597.5,391.5 602.5,391.5 602.0,395.0 605.0,395.7 609.4,393.0 612.9,394.9 607.8,397.2 609.1,398.8 615.8,398.5 615.8,401.1 609.1,400.8 607.8,402.4 612.9,404.7 609.4,406.6 605.0,403.9" fill="#bdc4cd" />
<ellipse cx="600.0" cy="399.5" rx="5.8" ry="3.0" fill="#163b38" />
<path d="M595.0,401.1 A5.8,2.3 0 0 1 605.0,401.1 A5.8,3.0 0 0 1 595.0,401.1 Z" fill="#9fa7b2"/>
</g>
<g id="arrows" fill="none" stroke="#1d4843" stroke-width="2.6" stroke-linecap="butt" stroke-linejoin="miter">
<path d="M467,268.6 L570.3,208.3"/>
<path d="M564.3,207.1 L571.3,207.7 L568.4,214.1"/>
<path d="M496,252.8 L558.7,252.8 L637.7,297.4 L664.5,284.8"/>
<path d="M659.1,283.1 L665.5,284.3 L662.3,290.0"/>
<path d="M674.5,295.8 L643.3,310.6 L637.2,335.3"/>
<path d="M641.9,332.1 L637.0,336.3 L634.6,330.3"/>
</g>
<g id="leaders" stroke="#56696a" stroke-width="1.3" fill="none">
<line x1="136.6" y1="268.2" x2="222.0" y2="322.6" stroke="#727e7e" stroke-width="1.4" />
<line x1="510.5" y1="92.0" x2="570.5" y2="129.5" stroke="#727e7e" stroke-width="1.4" />
<line x1="847.2" y1="166.4" x2="760.5" y2="222.2" stroke="#727e7e" stroke-width="1.4" />
<line x1="840.6" y1="253.6" x2="755.0" y2="307.0" stroke="#727e7e" stroke-width="1.4" />
<line x1="624.0" y1="409.8" x2="710.5" y2="465.0" stroke="#727e7e" stroke-width="1.4" />
</g>
<g id="leader-dots" fill="#3a4c4b">
<circle cx="136.6" cy="268.2" r="1.6"/>
<circle cx="510.5" cy="92" r="1.6"/>
<circle cx="847.2" cy="166.4" r="1.6"/>
<circle cx="840.6" cy="253.6" r="1.6"/>
<circle cx="710.5" cy="465" r="1.6"/>
</g>
<g id="labels" fill="#1e433f" font-weight="bold" font-size="26" letter-spacing="2.3" stroke="#1e433f" stroke-width="1.0" style="font-family:'Liberation Sans',sans-serif">
<text x="28.3" y="275.2" textLength="97" lengthAdjust="spacingAndGlyphs">BATTERY</text>
<text x="384.6" y="54.6" textLength="206" lengthAdjust="spacingAndGlyphs">BATTERY THERMAL</text>
<text x="384.6" y="79.0" textLength="250.5" lengthAdjust="spacingAndGlyphs">MANAGEMENT SYSTEM</text>
<text x="856.6" y="172.0" textLength="105.5" lengthAdjust="spacingAndGlyphs">INVERTER</text>
<text x="851.7" y="252.6" textLength="137.5" lengthAdjust="spacingAndGlyphs">CONTROLLER</text>
<text x="718.9" y="451.3" textLength="72.5" lengthAdjust="spacingAndGlyphs">IN-HUB</text>
<text x="718.9" y="475.9" textLength="102" lengthAdjust="spacingAndGlyphs">ELECTRIC</text>
<text x="718.9" y="500.8" textLength="87.5" lengthAdjust="spacingAndGlyphs">MOTORS</text>
</g>
<g id="caption" font-size="36.3" font-weight="bold" fill="#000" stroke="#000" stroke-width="2.2" stroke-linejoin="round" style="font-family:'Liberation Serif',serif">
<text x="311.3" y="615.8" textLength="90.8" lengthAdjust="spacingAndGlyphs">Does</text>
<text x="417.2" y="615.8" textLength="45.5" lengthAdjust="spacingAndGlyphs">an</text>
<text x="478.6" y="615.8" textLength="140.2" lengthAdjust="spacingAndGlyphs">electric</text>
<text x="634.8" y="615.8" textLength="63" lengthAdjust="spacingAndGlyphs">bus</text>
<text x="715" y="615.8" textLength="86.5" lengthAdjust="spacingAndGlyphs">have</text>
<text x="817" y="615.8" textLength="46" lengthAdjust="spacingAndGlyphs">an</text>
<text x="877" y="615.8" textLength="126.5" lengthAdjust="spacingAndGlyphs">engine</text>
</g>
</svg>
</body></html>
